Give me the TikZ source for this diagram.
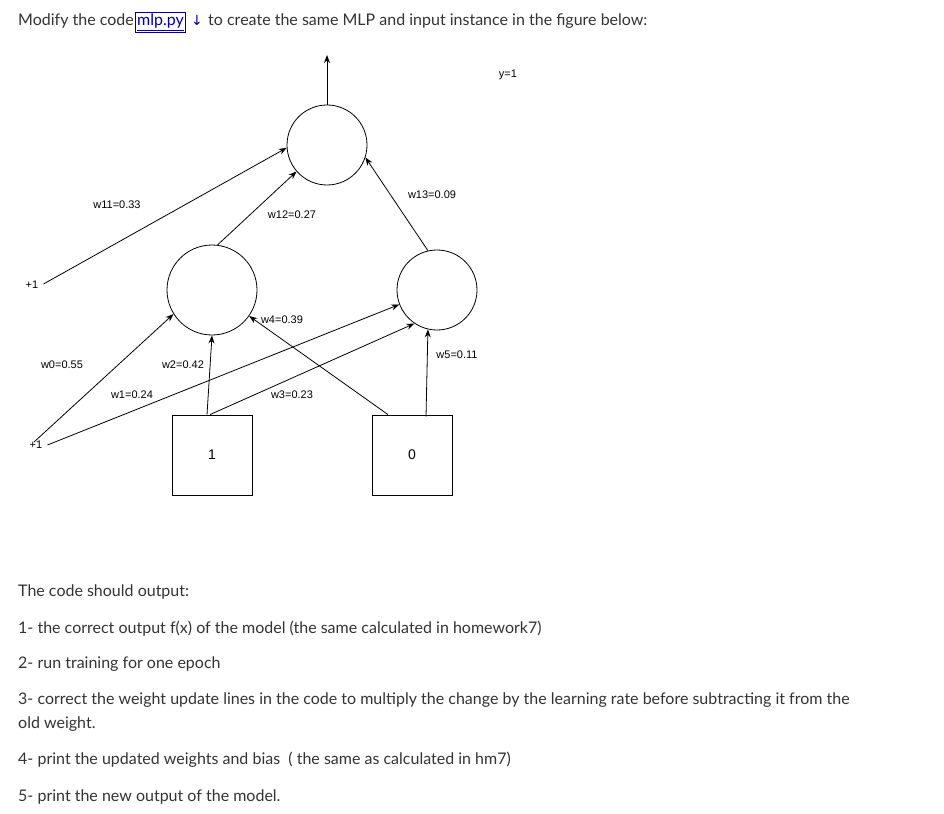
\documentclass[tikz,border=0pt]{standalone}
\usepackage{fontspec}
\setmainfont{Lato}
\newfontfamily\lab{Liberation Sans}
\newfontfamily\djvfont{DejaVu Sans}
\usetikzlibrary{arrows.meta}
\begin{document}
\begin{tikzpicture}[x=1pt,y=-1pt,
  neuron/.style={draw,circle,line width=0.8pt},
  inbox/.style={draw,line width=0.8pt,minimum width=80pt,minimum height=80pt,font=\lab\fontsize{14}{16}\selectfont},
  wl/.style={font=\lab\fontsize{11}{13}\selectfont,inner sep=1pt},
  body/.style={anchor=base west,inner sep=0pt,font=\fontsize{16}{19}\selectfont,text=black!80},
  conn/.style={line width=0.8pt,-{Stealth[length=8pt,width=6pt]}}]
\useasboundingbox (0,0) rectangle (944,813);
% header
\node[body] (h1) at (18,26) {Modify the code};
\node[body,text=blue!60!black,draw=blue!55!black,line width=1.2pt,inner sep=1.5pt,anchor=base west] (lnk) at ([xshift=1]h1.base east) {\underline{mlp.py}};
\node[body,text=blue!60!black,anchor=base west] (arr) at ([xshift=5]lnk.base east) {\djvfont\fontsize{14}{16}\selectfont ↓};
\node[body,anchor=base west] (h2) at ([xshift=5]arr.base east) {to create the same MLP and input instance in the figure below:};
% neurons
\node[neuron,minimum size=80pt] (T) at (327,145) {};
\node[neuron,minimum size=90pt] (L) at (212,290) {};
\node[neuron,minimum size=80pt] (R) at (437,290) {};
\node[inbox] (b1) at (212,455) {1};
\node[inbox] (b0) at (412,455) {0};
\node[wl] (p1) at (32,285) {+1};
\node[wl] (p2) at (36,445) {+1};
\node[wl] (y) at (508,75) {y=1};
\coordinate (out) at (327,55);
% connectors
\draw[conn] (T.north) -- (out);
\draw[conn] ([xshift=4,yshift=-4]p1.north east) -- (T.184);
\draw[conn] (L.83) -- (T.221);
\draw[conn] (R.103) -- (T.342);
\draw[conn] ([xshift=-2,yshift=-2]p2.north) -- (L.212);
\draw[conn] ([xshift=4]p2.east) -- (R.201);
\draw[conn] ([xshift=-5]b1.north) -- (L.270);
\draw[conn] ([xshift=-2]b1.north) -- (R.236);
\draw[conn] ([xshift=-24]b0.north) -- (L.325);
\draw[conn] ([xshift=14,yshift=-2]b0.north) -- (R.257);
% labels
\node[wl] at (117,205) {w11=0.33};
\node[wl] at (292,215) {w12=0.27};
\node[wl] at (432,195) {w13=0.09};
\node[wl] at (282,320) {w4=0.39};
\node[wl] at (62,365) {w0=0.55};
\node[wl] at (183,365) {w2=0.42};
\node[wl] at (132,395) {w1=0.24};
\node[wl] at (292,395) {w3=0.23};
\node[wl] at (457,355) {w5=0.11};
% text
\node[body] (t1) at (18,596) {The code should output:};
\node[body] (t2) at (18,633) {1- the correct output f(x) of the model (the same calculated in homework7)};
\node[body] (t3) at (18,668) {2- run training for one epoch};
\node[body] (t4) at (18,704) {3- correct the weight update lines in the code to multiply the change by the learning rate before subtracting it from the};
\node[body] (t5) at (18,728) {old weight.};
\node[body] (t6) at (18,764) {4- print the updated weights and bias \ ( the same as calculated in hm7)};
\node[body] (t7) at (18,801) {5- print the new output of the model.};
\end{tikzpicture}
\end{document}
